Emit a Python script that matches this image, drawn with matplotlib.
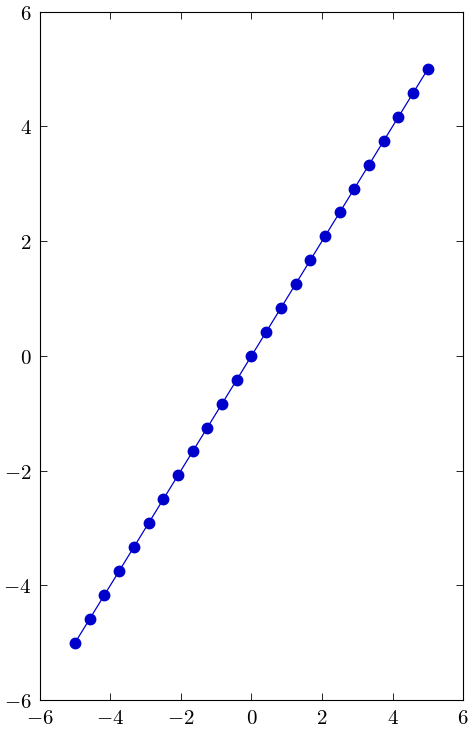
import matplotlib
matplotlib.use("Agg")
import matplotlib.pyplot as plt
from matplotlib.ticker import FuncFormatter, MultipleLocator

plt.rcParams["mathtext.fontset"] = "cm"

xs = [-5.0, -4.583, -4.167, -3.75, -3.333, -2.917, -2.5, -2.083, -1.667, -1.25,
      -0.833, -0.417, 0.0, 0.417, 0.833, 1.25, 1.667, 2.083, 2.5, 2.917,
      3.333, 3.75, 4.167, 4.583, 5.0]
ys = [-5.0, -4.583, -4.167, -3.75, -3.333, -2.917, -2.5, -2.083, -1.667, -1.25,
      -0.833, -0.417, 0.0, 0.417, 0.833, 1.25, 1.667, 2.083, 2.5, 2.917,
      3.333, 3.75, 4.167, 4.583, 5.0]

fig = plt.figure(figsize=(4.74, 7.33), dpi=100)
ax = fig.add_axes([0.084, 0.045, 0.893, 0.939])
ax.plot(xs, ys, color=(0, 0, 0.8), lw=0.9, marker="o", ms=7.5,
        markerfacecolor=(0, 0, 0.8), markeredgecolor=(0, 0, 0.8))

ax.set_xlim(-6, 6)
ax.set_ylim(-6, 6)
ax.xaxis.set_major_locator(MultipleLocator(2))
ax.yaxis.set_major_locator(MultipleLocator(2))
fmt = FuncFormatter(lambda v, p: f"${v:g}$".replace("-", "-"))
ax.xaxis.set_major_formatter(fmt)
ax.yaxis.set_major_formatter(fmt)
ax.tick_params(direction="in", top=True, right=True, length=5, width=0.6,
               labelsize=15, pad=6)
for s in ax.spines.values():
    s.set_linewidth(0.8)

fig.savefig("out.png", dpi=100)
